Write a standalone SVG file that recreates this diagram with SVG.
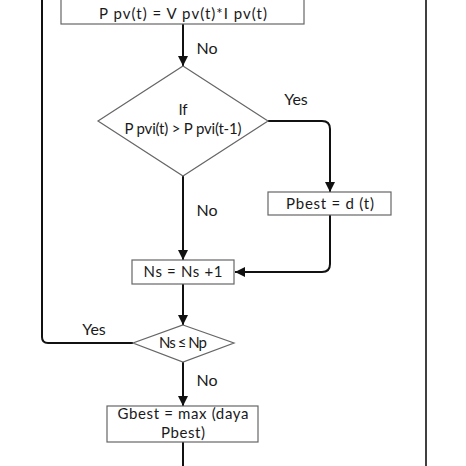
<svg xmlns="http://www.w3.org/2000/svg" width="466" height="466" viewBox="0 0 466 466">
<style>
.box{fill:#fff;stroke:#666;stroke-width:1.2}
.con{fill:none;stroke:#111;stroke-width:2}
.frame{fill:none;stroke:#404040;stroke-width:2}
text{font-family:Lato,"Open Sans","Liberation Sans",sans-serif;font-size:15px;fill:#1a1a1a;text-anchor:middle}
.lbl{font-size:16px}
</style>
<defs>
<marker id="arr" viewBox="0 0 10 10" refX="10" refY="5" markerWidth="5" markerHeight="5" orient="auto" markerUnits="strokeWidth">
<path d="M0,0 L10,5 L0,10 z" fill="#111"/>
</marker>
</defs>
<rect width="466" height="466" fill="#fff"/>
<g id="connectors">
<line class="frame" x1="426" y1="0" x2="426" y2="466"/>
<path class="con" d="M183,24 V66" marker-end="url(#arr)"/>
<path class="con" d="M268,121 H322 Q330,121 330,129 V192" marker-end="url(#arr)"/>
<path class="con" d="M183,176 V260" marker-end="url(#arr)"/>
<path class="con" d="M330,215 V264 Q330,272 322,272 H235" marker-end="url(#arr)"/>
<path class="con" d="M183,284 V325" marker-end="url(#arr)"/>
<path class="con" d="M133,343 H48 Q42,343 42,337 V0"/>
<path class="con" d="M183,362 V406" marker-end="url(#arr)"/>
<path class="con" d="M183,442 V466"/>
<text class="lbl" x="207" y="54">No</text>
<text class="lbl" x="296" y="105">Yes</text>
<text class="lbl" x="207" y="216">No</text>
<text class="lbl" x="94" y="335">Yes</text>
<text class="lbl" x="207" y="386">No</text>
</g>
<g id="n-ppv">
<rect class="box" x="61" y="-10" width="243" height="34"/>
<text x="183" y="19" textLength="168" lengthAdjust="spacing">P pv(t) = V pv(t)*I pv(t)</text>
</g>
<g id="n-if">
<polygon class="box" points="183,66 268,121 183,176 98,121"/>
<text x="183" y="115">If</text>
<text x="183" y="134" textLength="117" lengthAdjust="spacing">P pvi(t) &gt; P pvi(t-1)</text>
</g>
<g id="n-pbest">
<rect class="box" x="268" y="192" width="123" height="23"/>
<text x="330" y="209" textLength="88" lengthAdjust="spacing">Pbest = d (t)</text>
</g>
<g id="n-ns">
<rect class="box" x="132" y="260" width="102" height="24"/>
<text x="183" y="277" textLength="79" lengthAdjust="spacing">Ns = Ns +1</text>
</g>
<g id="n-cond">
<polygon class="box" points="183,325 234,343 183,362 133,343"/>
<text x="183" y="348" textLength="48" lengthAdjust="spacing">Ns ≤ Np</text>
</g>
<g id="n-gbest">
<rect class="box" x="107" y="406" width="151" height="36"/>
<text x="183" y="419" textLength="131" lengthAdjust="spacing">Gbest = max (daya</text>
<text x="183" y="438" textLength="44" lengthAdjust="spacing">Pbest)</text>
</g>
</svg>
